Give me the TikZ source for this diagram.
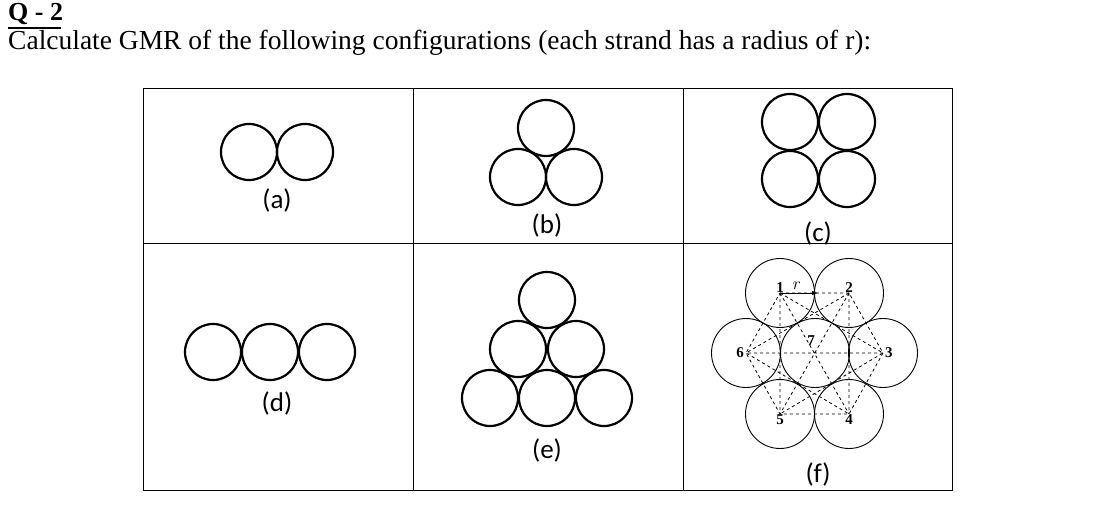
\documentclass[tikz,border=0pt]{standalone}
\usepackage{fontspec}
\usetikzlibrary{calc}
\setmainfont{Liberation Serif}
\newfontfamily\lab{Carlito}
\begin{document}
\begin{tikzpicture}[x=1pt,y=-1pt,
 strand/.style={draw,line width=2.2pt},
 thin/.style={draw,line width=0.9pt},
 dl/.style={dashed,line width=0.8pt},
 lbl/.style={font=\lab\fontsize{27}{29}\selectfont},
 num/.style={font=\bfseries\fontsize{15}{16}\selectfont,inner sep=1pt}]
\useasboundingbox (0,0) rectangle (1104,508);
\node[anchor=north west,inner sep=0pt,font=\bfseries\fontsize{26}{28}\selectfont] (q) at (8,3) {Q - 2};
\draw[line width=1.6pt] (8,28) -- (61,28);
\node[anchor=north west,inner sep=0pt,font=\fontsize{27.5}{30}\selectfont] (t) at (8,30) {Calculate GMR of the following configurations (each strand has a radius of r):};
% grid
\draw[line width=0.8pt] (143,88) rectangle (952,490);
\draw[line width=0.8pt] (143,243) -- (952,243) (413,88) -- (413,490) (683,88) -- (683,490);
% (a)
\foreach \x in {249,305} \draw[strand] (\x,152) circle (28);
\node[lbl] (la) at (277,200) {(a)};
% (b)
\draw[strand] (546,128) circle (28);
\foreach \x in {518,574} \draw[strand] (\x,177) circle (28);
\node[lbl] (lb) at (547,225) {(b)};
% (c)
\foreach \x in {790,847} \foreach \y in {122,179} \draw[strand] (\x,\y) circle (28);
\node[lbl] (lc) at (818,233) {(c)};
% (d)
\foreach \x in {213,270,327} \draw[strand] (\x,352) circle (28);
\node[lbl] (ld) at (277,403) {(d)};
% (e)
\draw[strand] (547,300) circle (28);
\foreach \x in {518,576} \draw[strand] (\x,349) circle (28);
\foreach \x in {490,547,604} \draw[strand] (\x,398) circle (28);
\node[lbl] (le) at (547,450) {(e)};
% (f)
\coordinate (c1) at (780,293); \coordinate (c2) at (849,293);
\coordinate (c3) at (883,353); \coordinate (c4) at (849,414);
\coordinate (c5) at (780,414); \coordinate (c6) at (746,353);
\coordinate (c7) at (815,353);
\foreach \c in {c1,c2,c3,c4,c5,c6,c7} \draw[thin] (\c) circle (34.5);
\draw[dl] (c1)--(c2)--(c3)--(c4)--(c5)--(c6)--cycle;
\draw[dl] (c1)--(c4) (c2)--(c5) (c3)--(c6) (c1)--(c5) (c2)--(c4);
\draw[dl] (c1)--(c3)--(c5) (c2)--(c6)--(c4);
\draw[line width=1pt,-latex] (c1) -- ($(c1)!0.55!(c2)$);
\node[num,anchor=south] (n1) at ([yshift=-1]c1) {1};
\node[font=\fontsize{16}{16}\selectfont,anchor=south] (nr) at (797,293) {$r$};
\node[num,anchor=south] (n2) at ([yshift=-1]c2) {2};
\node[num,anchor=west] (n3) at ([xshift=1]c3) {3};
\node[num,anchor=north] (n4) at ([yshift=1]c4) {4};
\node[num,anchor=north] (n5) at ([yshift=1]c5) {5};
\node[num,anchor=east] (n6) at ([xshift=-1]c6) {6};
\node[num] (n7) at (811,341) {7};
\node[lbl] (lf) at (818,474) {(f)};
\end{tikzpicture}
\end{document}
